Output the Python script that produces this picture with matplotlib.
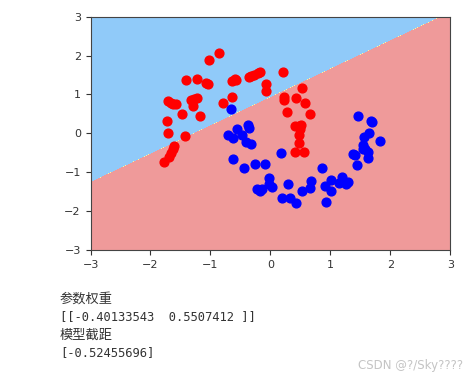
import numpy as np
import matplotlib
matplotlib.use("Agg")
import matplotlib.pyplot as plt
from matplotlib.colors import ListedColormap

# model params (as printed under the plot)
coef = [-0.40133543, 0.5507412]
intercept = -0.52455696

# class 0 points (drawn red)
red_x = [-0.86, -1.03, -1.41, -1.23, -1.07, -1.04, -1.70, -1.66, -1.57, -1.62,
         -1.32, -1.27, -1.22, -1.29, -1.47, -1.18, -1.72, -1.70, -1.43,
         -1.61, -1.63, -1.65, -1.69, -1.77, -0.79, -0.64, -0.64, -0.59, -0.57,
         -0.36, -0.32, -0.27, -0.20, -0.18, -0.08, -0.08, 0.21, 0.22, 0.23,
         0.43, 0.53, 0.57, 0.27, 0.66, 0.41, 0.47, 0.51, 0.49, 0.47, 0.47,
         0.41, 0.56]
red_y = [2.07, 1.88, 1.37, 1.40, 1.29, 1.27, 0.83, 0.77, 0.76, 0.75,
         0.87, 0.89, 0.91, 0.70, 0.51, 0.44, 0.33, 0.00, -0.07,
         -0.33, -0.41, -0.51, -0.60, -0.73, 0.77, 0.94, 1.35, 1.39, 1.37,
         1.46, 1.47, 1.49, 1.56, 1.58, 1.26, 1.10, 1.57, 0.94, 0.87,
         0.90, 1.16, 0.77, 0.54, 0.50, 0.19, 0.19, 0.22, 0.10, -0.04, -0.26,
         -0.47, -0.47]

# class 1 points (drawn blue)
blue_x = [-0.66, -0.71, -0.62, -0.56, -0.47, -0.38, -0.36, -0.41, -0.33, 0.17,
          -0.62, -0.44, -0.26, -0.09, -0.03, 0.02, -0.03, -0.23, -0.18, -0.14,
          0.30, 0.20, 0.32, 0.43, 0.52, 0.66, 0.68, 0.86, 0.91, 1.01,
          1.01, 0.93, 1.14, 1.19, 1.26, 1.29, 1.37, 1.45, 1.41, 1.46,
          1.67, 1.69, 1.64, 1.56, 1.82, 1.55, 1.58, 1.63, 1.54, 1.63]
blue_y = [0.63, -0.03, -0.11, 0.10, -0.03, 0.21, 0.15, -0.21, -0.27, -0.51,
          -0.67, -0.88, -0.80, -0.80, -1.16, -1.39, -1.29, -1.44, -1.47, -1.43,
          -1.30, -1.65, -1.65, -1.80, -1.48, -1.40, -1.23, -0.88, -1.35, -1.21,
          -1.48, -1.77, -1.27, -1.11, -1.29, -1.25, -0.52, -0.81, -0.56, 0.45,
          0.33, 0.28, 0.02, -0.09, -0.20, -0.30, -0.41, -0.47, -0.41, -0.64]

axis = [-3, 3, -3, 3]

fig = plt.figure(figsize=(4.74, 3.8), dpi=100)
ax = fig.add_axes([0.191, 0.342, 0.759, 0.614])

# decision boundary
x0, x1 = np.meshgrid(np.linspace(axis[0], axis[1], 600),
                     np.linspace(axis[2], axis[3], 600))
z = (coef[0] * x0 + coef[1] * x1 + intercept > 0).astype(int)
custom_cmap = ListedColormap(['#EF9A9A', '#FFF59D', '#90CAF9'])
ax.contourf(x0, x1, z, cmap=custom_cmap)

ax.scatter(red_x, red_y, color='red', s=40)
ax.scatter(blue_x, blue_y, color='blue', s=40)
ax.set_xlim(axis[0], axis[1])
ax.set_ylim(axis[2], axis[3])
ax.set_xticks([-3, -2, -1, 0, 1, 2, 3])
ax.set_yticks([-3, -2, -1, 0, 1, 2, 3])
ax.tick_params(labelsize=8, colors='#333333')
for s in ax.spines.values():
    s.set_color('#444444')

# printed output below the plot
tc = '#333333'
fig.text(60 / 474, 1 - 299 / 380, '参数权重', family=['Noto Sans CJK SC', 'DejaVu Sans'],
         fontsize=9.5, color=tc, va='center')
fig.text(60 / 474, 1 - 317 / 380, '[[-0.40133543  0.5507412 ]]', family='DejaVu Sans Mono',
         fontsize=8.7, color=tc, va='center')
fig.text(60 / 474, 1 - 335 / 380, '模型截距', family=['Noto Sans CJK SC', 'DejaVu Sans'],
         fontsize=9.5, color=tc, va='center')
fig.text(60 / 474, 1 - 353 / 380, '[-0.52455696]', family='DejaVu Sans Mono',
         fontsize=8.7, color=tc, va='center')

fig.text(463 / 474, 1 - 365 / 380, 'CSDN @?/Sky????', fontsize=8.5, color='#c4c4c4',
         ha='right', va='center')

fig.savefig('out.png', dpi=100)
